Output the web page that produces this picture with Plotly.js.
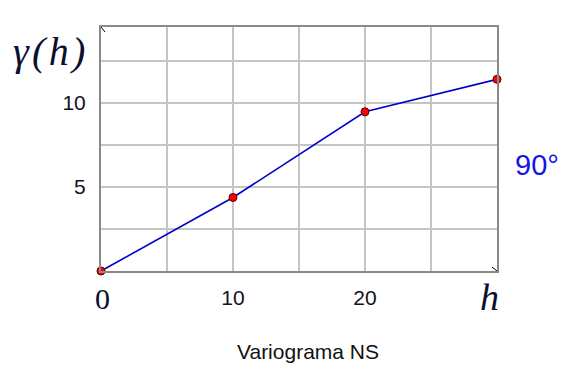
<!DOCTYPE html>
<html>
<head>
<meta charset="utf-8">
<script src="https://cdn.plot.ly/plotly-3.0.1.min.js"></script>
<style>html,body{margin:0;padding:0;background:#fff;}#chart{width:577px;height:383px;}</style>
</head>
<body>
<div id="chart"></div>
<script>
// Data
const lagH = [0, 10, 20, 30];
const gammaH = [0, 4.37, 9.46, 11.39];

const xTickVals = [0, 5, 10, 15, 20, 25, 30];
const xTickText = ['', '', '10', '', '20', '', ''];
const yTickVals = [0, 2.5, 5, 7.5, 10, 12.5];
const yTickText = ['', '', '5', '', '10', ''];

const chartTitle = 'Variograma NS';
const directionLabel = '90°';
const xAxisLabel = 'h';
const yAxisLabel = 'γ(h)';
const originLabel = '0';

const xMax = 30, yMax = 14.5;

const trace = {
  x: lagH, y: gammaH, type: 'scatter', mode: 'lines+markers',
  line: {color: '#0000c8', width: 1.6},
  marker: {color: '#ff0000', size: 8, line: {color: '#550000', width: 1}},
  hoverinfo: 'none', cliponaxis: false
};

const layout = {
  width: 577, height: 383,
  margin: {l: 101, r: 80, t: 27, b: 112},
  paper_bgcolor: '#ffffff', plot_bgcolor: '#ffffff',
  showlegend: false,
  font: {family: 'Arial, "Liberation Sans", sans-serif', color: '#111122', size: 20},
  xaxis: {
    range: [0, xMax], tickvals: xTickVals, ticktext: xTickText,
    showgrid: true, gridcolor: '#c4c4c4', gridwidth: 2,
    showline: true, linecolor: '#8a8a8a', linewidth: 2, mirror: true,
    zeroline: false, ticks: 'outside', ticklen: 7, tickcolor: 'rgba(0,0,0,0)',
    tickfont: {size: 21}
  },
  yaxis: {
    range: [0, yMax], tickvals: yTickVals, ticktext: yTickText,
    showgrid: true, gridcolor: '#c4c4c4', gridwidth: 2,
    showline: true, linecolor: '#8a8a8a', linewidth: 2, mirror: true,
    zeroline: false, ticks: 'outside', ticklen: 9, tickcolor: 'rgba(0,0,0,0)',
    tickfont: {size: 21}
  },
  shapes: [
    {type: 'path', xref: 'x', yref: 'y', xsizemode: 'pixel', ysizemode: 'pixel',
     xanchor: 0, yanchor: yMax, path: 'M -4 -5 L 0 0 L 4 -5', line: {color: '#000', width: 1}},
    {type: 'path', xref: 'x', yref: 'y', xsizemode: 'pixel', ysizemode: 'pixel',
     xanchor: xMax, yanchor: 0, path: 'M -5 4 L 0 0 L -5 -4', line: {color: '#000', width: 1}}
  ],
  annotations: [
    {xref: 'paper', yref: 'paper', x: 0.5, y: 0, yshift: -80, xanchor: 'center', yanchor: 'middle',
     text: chartTitle, showarrow: false, font: {size: 21, color: '#111'}, xshift: 9},
    {xref: 'paper', yref: 'y', x: 1, y: 6.3, xshift: 40, xanchor: 'center', yanchor: 'middle',
     text: directionLabel, showarrow: false, font: {size: 29, color: '#1414e6'}},
    {xref: 'x', yref: 'paper', x: xMax, y: 0, xshift: -8, yshift: -26, xanchor: 'center', yanchor: 'middle',
     text: '<i>' + xAxisLabel + '</i>', showarrow: false,
     font: {size: 38, family: '"Liberation Serif", "DejaVu Serif", serif', color: '#0a1030'}},
    {xref: 'x', yref: 'paper', x: 0, y: 0, xshift: 1, yshift: -27, xanchor: 'center', yanchor: 'middle',
     text: originLabel, showarrow: false,
     font: {size: 30, family: '"Liberation Serif", serif', color: '#0a1030'}},
    {xref: 'paper', yref: 'paper', x: 0, y: 1, xshift: -52, yshift: -24, xanchor: 'center', yanchor: 'middle',
     text: '<i>' + yAxisLabel.split('').join('\u200A') + '</i>', showarrow: false,
     font: {size: 40, family: '"Liberation Serif", "DejaVu Serif", serif', color: '#0a1030'}}
  ]
};

Plotly.newPlot('chart', [trace], layout, {staticPlot: true, displayModeBar: false});
</script>
</body>
</html>
